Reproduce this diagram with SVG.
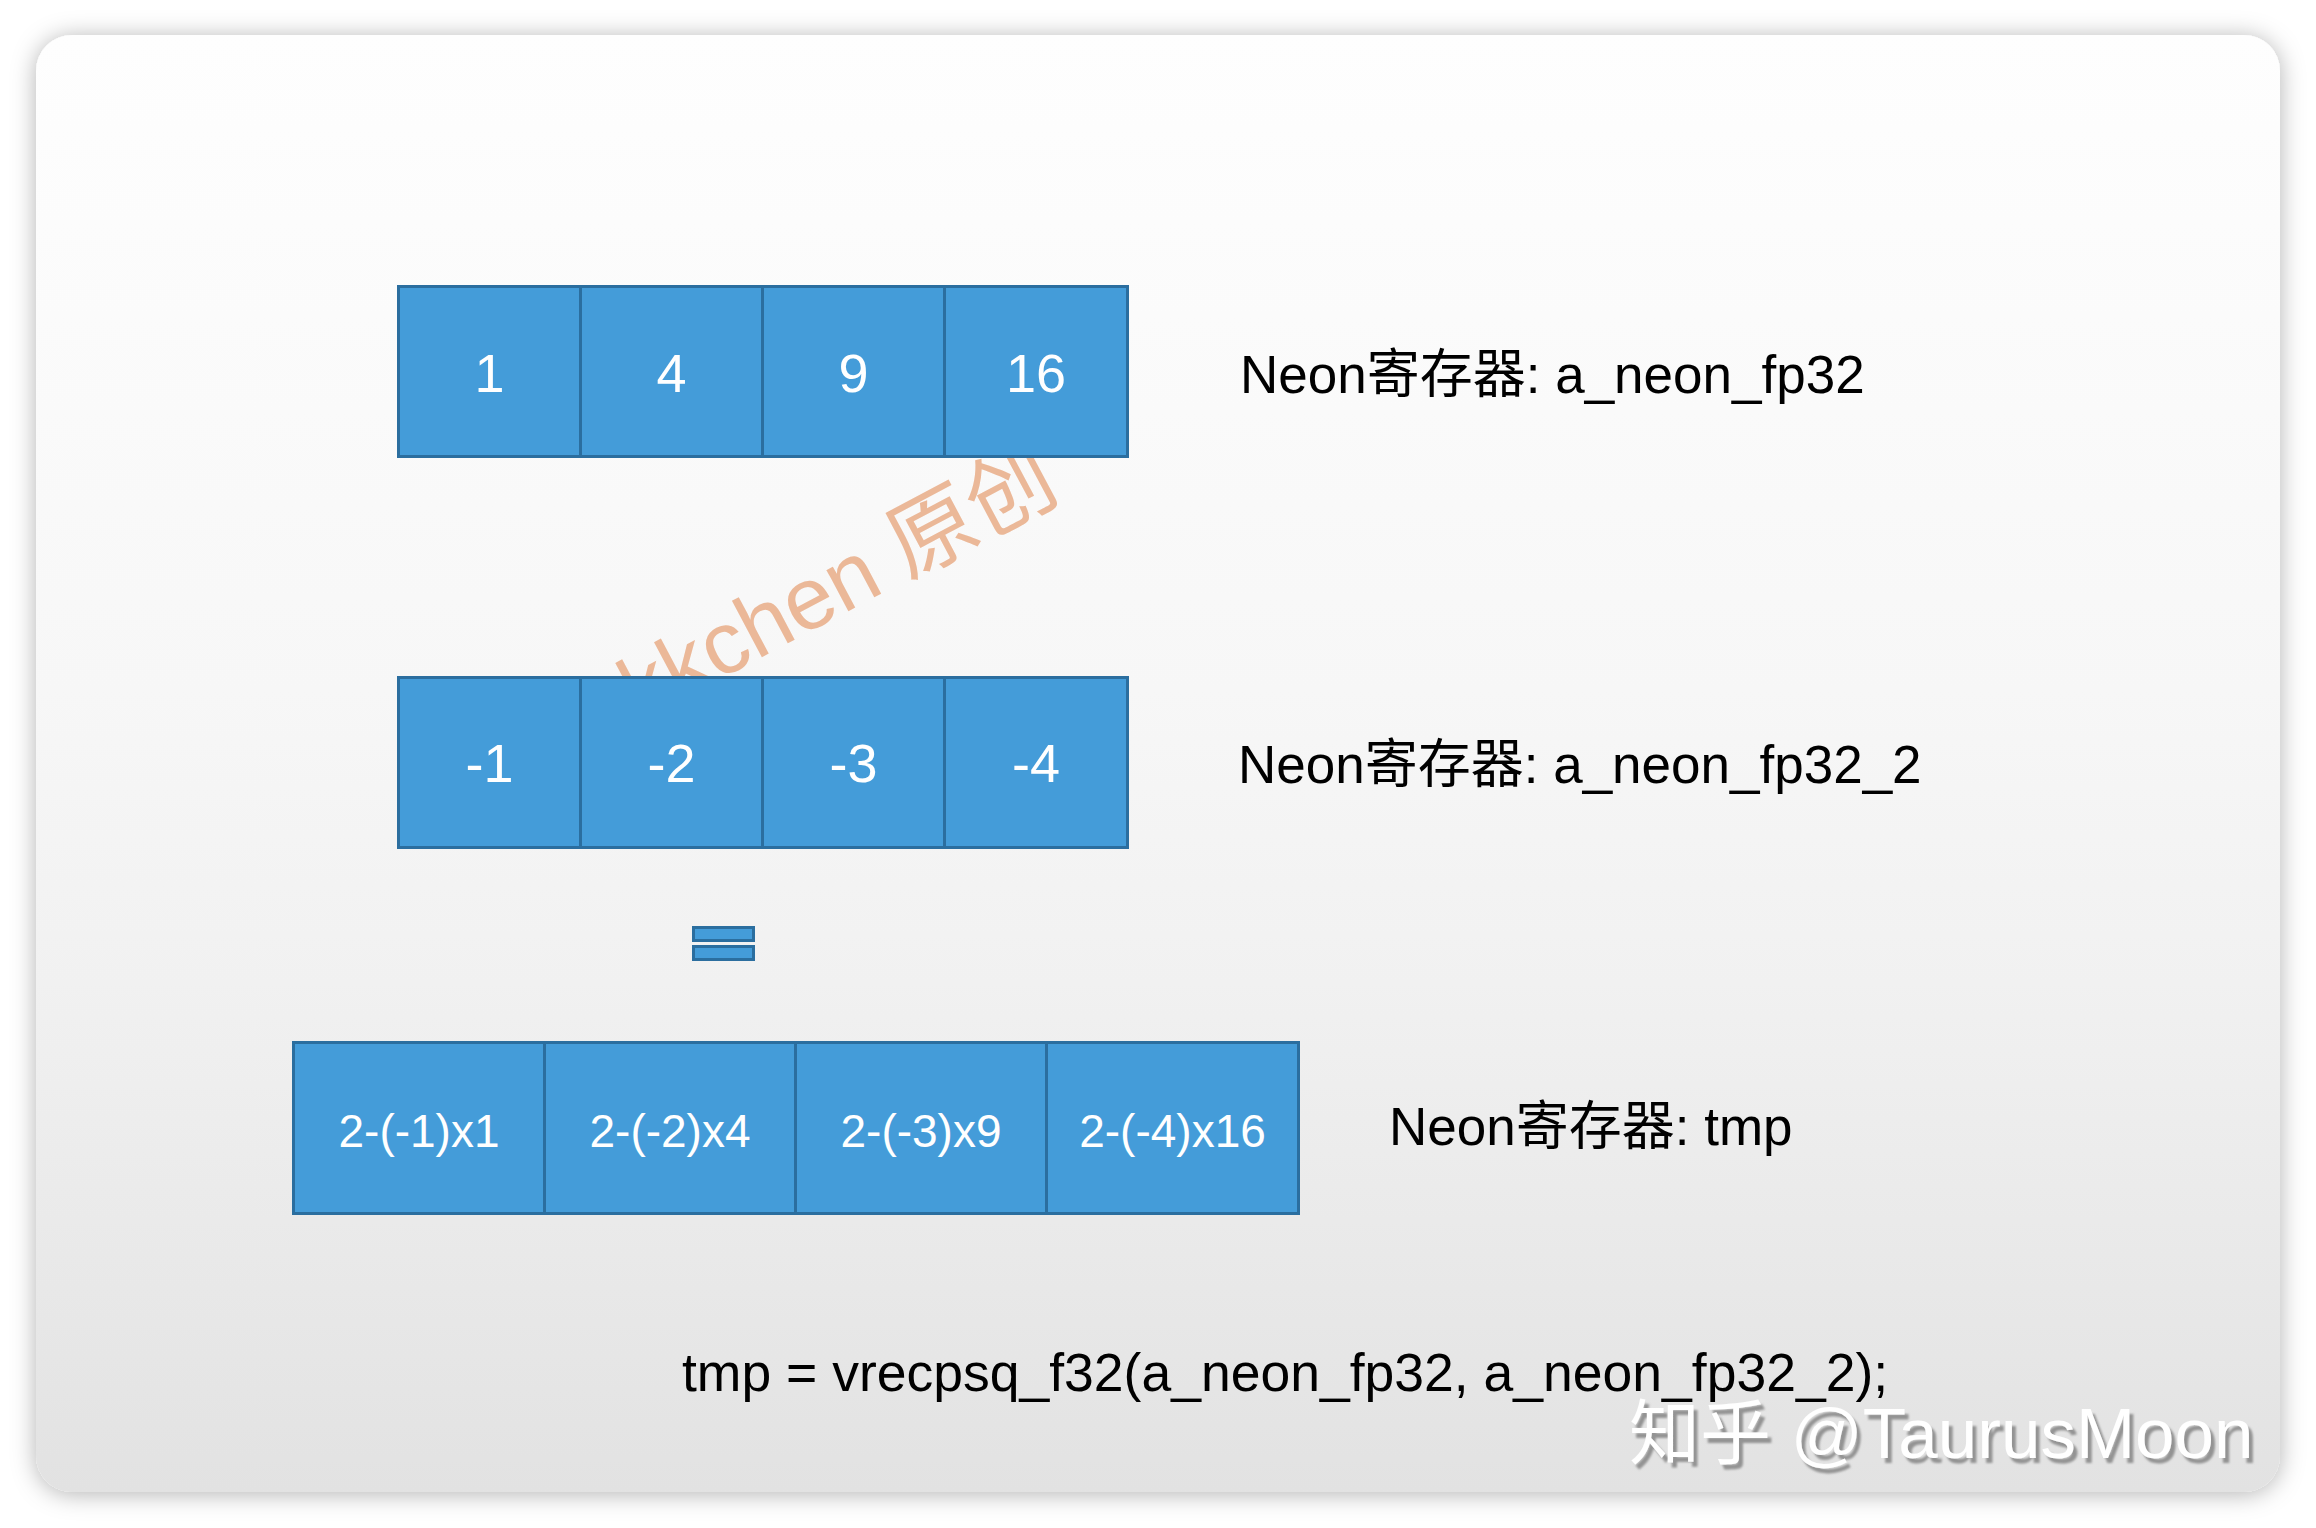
<svg xmlns="http://www.w3.org/2000/svg" width="2316" height="1528" viewBox="0 0 2316 1528">
<defs>
<linearGradient id="cardGrad" x1="0" y1="0" x2="0" y2="1">
<stop offset="0" stop-color="#fefefe"/>
<stop offset="0.45" stop-color="#f7f7f7"/>
<stop offset="0.65" stop-color="#f1f1f1"/>
<stop offset="1" stop-color="#e2e2e2"/>
</linearGradient>
<filter id="cardShadow" x="-5%" y="-5%" width="110%" height="110%">
<feDropShadow dx="0" dy="2" stdDeviation="12" flood-color="#000" flood-opacity="0.3"/>
</filter>
<filter id="textShadow" x="-5%" y="-20%" width="110%" height="140%">
<feDropShadow dx="4" dy="5" stdDeviation="1" flood-color="#8a8a8a" flood-opacity="0.9"/>
</filter>
<style>
.cell{fill:#449cd9;stroke:#2b6e9f;stroke-width:3}
.ct{font-family:"Liberation Sans",Arial,sans-serif;font-size:54px;fill:#ffffff;text-anchor:middle}
.ct3{font-family:"Liberation Sans",Arial,sans-serif;font-size:46px;fill:#ffffff;text-anchor:middle}
.lbl{font-family:"Liberation Sans","Noto Sans CJK SC",sans-serif;font-size:53px;fill:#000000}
.code{font-family:"Liberation Sans",Arial,sans-serif;font-size:53.5px;fill:#000000}
.wm{font-family:"Liberation Sans","Noto Sans CJK SC",sans-serif;font-size:88px;fill:#ebb898}
.zh{font-family:"Liberation Sans","Noto Sans CJK SC",sans-serif;font-size:71px;fill:#ffffff}
</style>
</defs>
<rect x="0" y="0" width="2316" height="1528" fill="#ffffff"/>
<rect x="36" y="35" width="2244" height="1457" rx="36" ry="36" fill="url(#cardGrad)" filter="url(#cardShadow)"/>

<text class="wm" transform="translate(640,722) rotate(-28)">kkchen 原创</text>

<g id="reg-a">
<rect class="cell" x="398.5" y="286.5" width="182" height="170"/>
<rect class="cell" x="580.5" y="286.5" width="182" height="170"/>
<rect class="cell" x="762.5" y="286.5" width="182" height="170"/>
<rect class="cell" x="944.5" y="286.5" width="183" height="170"/>
<text class="ct" x="489.5" y="392">1</text>
<text class="ct" x="671.5" y="392">4</text>
<text class="ct" x="853.5" y="392">9</text>
<text class="ct" x="1036" y="392">16</text>
</g>
<g id="label-a"><text class="lbl" x="1240" y="393">Neon寄存器: a_neon_fp32</text></g>

<g id="reg-b">
<rect class="cell" x="398.5" y="677.5" width="182" height="170"/>
<rect class="cell" x="580.5" y="677.5" width="182" height="170"/>
<rect class="cell" x="762.5" y="677.5" width="182" height="170"/>
<rect class="cell" x="944.5" y="677.5" width="183" height="170"/>
<text class="ct" x="489.5" y="782">-1</text>
<text class="ct" x="671.5" y="782">-2</text>
<text class="ct" x="853.5" y="782">-3</text>
<text class="ct" x="1036" y="782">-4</text>
</g>
<g id="label-b"><text class="lbl" x="1238" y="783">Neon寄存器: a_neon_fp32_2</text></g>

<g id="equals">
<rect class="cell" x="693.5" y="927.5" width="60" height="13"/>
<rect class="cell" x="693.5" y="946.5" width="60" height="13"/>
</g>

<g id="reg-tmp">
<rect class="cell" x="293.5" y="1042.5" width="251" height="171"/>
<rect class="cell" x="544.5" y="1042.5" width="251" height="171"/>
<rect class="cell" x="795.5" y="1042.5" width="251" height="171"/>
<rect class="cell" x="1046.5" y="1042.5" width="252" height="171"/>
<text class="ct3" x="419" y="1147">2-(-1)x1</text>
<text class="ct3" x="670" y="1147">2-(-2)x4</text>
<text class="ct3" x="921" y="1147">2-(-3)x9</text>
<text class="ct3" x="1172.5" y="1147">2-(-4)x16</text>
</g>
<g id="label-tmp"><text class="lbl" x="1389" y="1145">Neon寄存器: tmp</text></g>

<g id="code"><text class="code" x="682" y="1391">tmp = vrecpsq_f32(a_neon_fp32, a_neon_fp32_2);</text></g>

<g id="connectors"></g>

<text class="zh" x="1629" y="1458" filter="url(#textShadow)">知乎 @TaurusMoon</text>
</svg>
